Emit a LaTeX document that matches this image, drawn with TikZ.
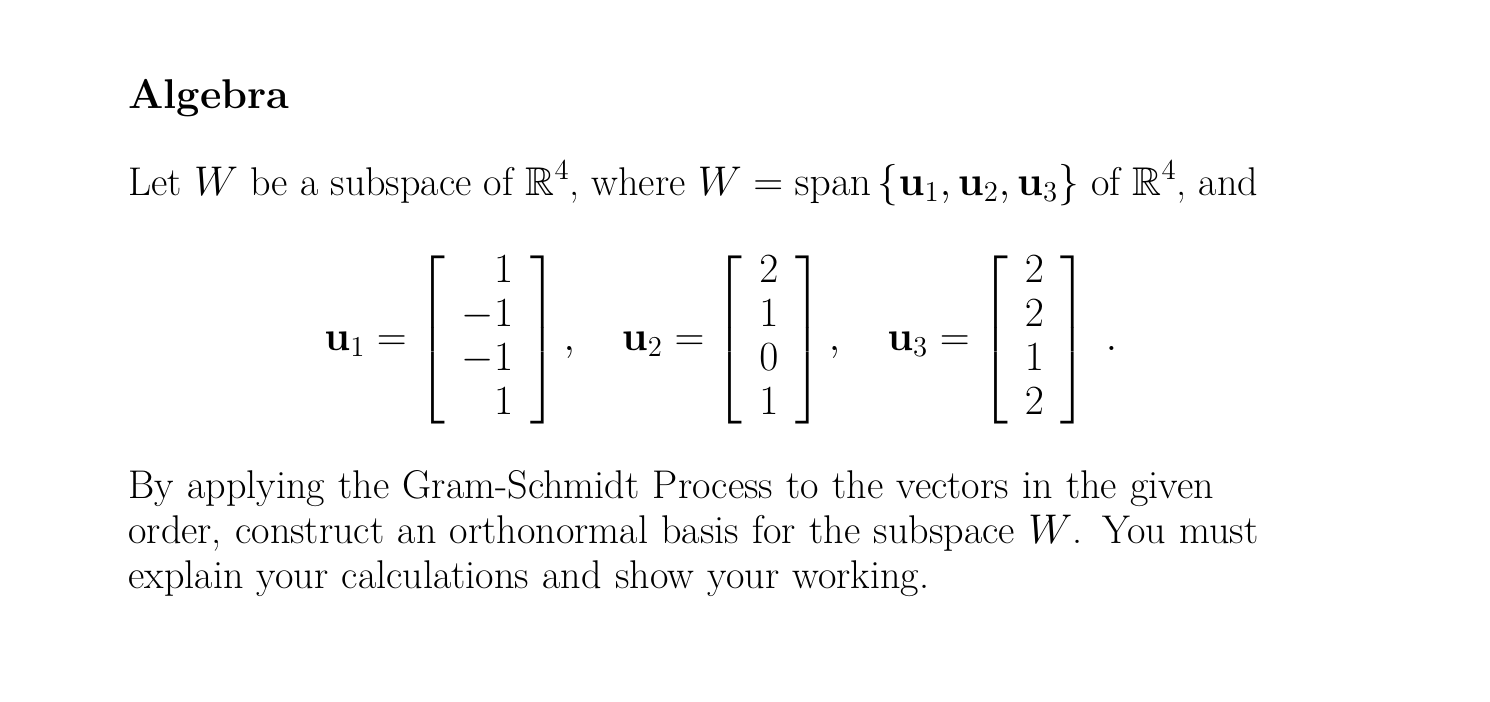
\documentclass[tikz,border=0pt]{standalone}
\usepackage{amsmath,amssymb}
\tikzset{txt/.style={anchor=base west,inner sep=0pt,font=\fontsize{20.05}{22.5}\selectfont}}
\newcommand{\pd}{\hspace{0.42em}}
\begin{document}
\begin{tikzpicture}[x=1pt,y=1pt]
\useasboundingbox (0,0) rectangle (745,-351);
\node[txt,font=\fontsize{20.8}{26}\selectfont\bfseries] (title) at (64,-54) {Algebra};
\node[txt] (intro) at (64,-97.5) {Let $W$ be a subspace of $\mathbb{R}^4$, where $W=\mathrm{span}\,\{\mathbf{u}_1,\mathbf{u}_2,\mathbf{u}_3\}$ of $\mathbb{R}^4$, and};
\node[anchor=west,inner sep=0pt,font=\fontsize{20.05}{22.5}\selectfont] (vecs) at (162,-170) {$\renewcommand{\arraystretch}{0.98}
\mathbf{u}_1=\begin{bmatrix}\pd\phantom{-}1\pd\\\pd-1\pd\\\pd-1\pd\\\pd\phantom{-}1\pd\end{bmatrix},\quad
\mathbf{u}_2=\begin{bmatrix}\pd2\pd\\\pd1\pd\\\pd0\pd\\\pd1\pd\end{bmatrix},\quad
\mathbf{u}_3=\begin{bmatrix}\pd2\pd\\\pd2\pd\\\pd1\pd\\\pd2\pd\end{bmatrix}\;.$};
\node[txt,anchor=north west,text width=580pt,align=left] (task) at (64,-235) {By applying the Gram-Schmidt Process to the vectors in the given order, construct an orthonormal basis for the subspace $W$. You must explain your calculations and show your working.};
\end{tikzpicture}
\end{document}
